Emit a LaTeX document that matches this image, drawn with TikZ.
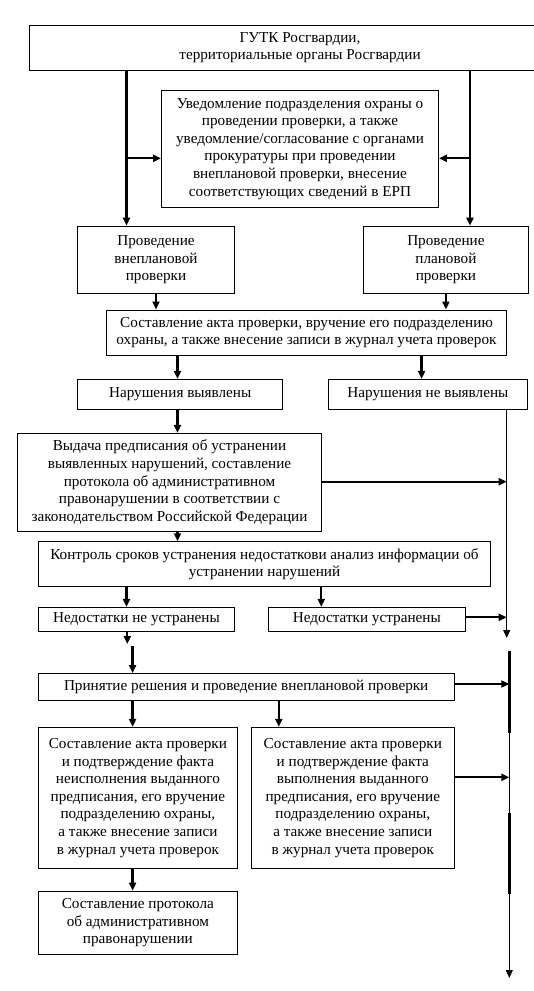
\documentclass[tikz,border=0pt]{standalone}
\usepackage{fontspec}
\setmainfont{Liberation Serif}
\usetikzlibrary{arrows.meta}
\begin{document}
\begin{tikzpicture}[x=1pt,y=-1pt,
  box/.style={draw, line width=0.9pt, align=center, inner sep=0pt,
    font=\fontsize{15.2}{17.6}\selectfont},
  tarrow/.style={line width=2.3pt, -{Triangle[length=8pt,width=7pt]}},
  tline/.style={line width=3pt},
  narrow/.style={line width=1pt, -{Triangle[length=8pt,width=7pt]}}]
\useasboundingbox (0,0) rectangle (533,991);
\fill[white] (0,0) rectangle (533,991);
% nodes
\node[box, minimum width=542pt, minimum height=45pt] (top) at (300,47.5)
  {ГУТК Росгвардии,\\ территориальные органы Росгвардии};
\node[box, minimum width=277pt, minimum height=117.3pt] (notif) at (300,148.7)
  {Уведомление подразделения охраны о\\ проведении проверки, а также\\ уведомление/согласование с органами\\ прокуратуры при проведении\\ внеплановой проверки, внесение\\ соответствующих сведений в ЕРП};
\node[box, minimum width=157pt, minimum height=67.3pt] (vnepl) at (156,259.7)
  {Проведение\\ внеплановой\\ проверки};
\node[box, minimum width=164.2pt, minimum height=67.3pt] (plan) at (445.9,259.7)
  {Проведение\\ плановой\\ проверки};
\node[box, minimum width=400.2pt, minimum height=45.7pt] (akt) at (306.5,332.8)
  {Составление акта проверки, вручение его подразделению\\ охраны, а также внесение записи в журнал учета проверок};
\node[box, minimum width=205.4pt, minimum height=30pt] (nar1) at (180.2,394.3)
  {Нарушения выявлены};
\node[box, minimum width=198.2pt, minimum height=30pt] (nar2) at (427.9,394.3)
  {Нарушения не выявлены};
\node[box, minimum width=303.6pt, minimum height=97.7pt] (vyd) at (169.5,482.2)
  {Выдача предписания об устранении\\ выявленных нарушений, составление\\ протокола об административном\\ правонарушении в соответствии с\\ законодательством Российской Федерации};
\node[box, minimum width=452.2pt, minimum height=45pt] (kontr) at (264.5,564.2)
  {Контроль сроков устранения недостаткови анализ информации об\\ устранении нарушений};
\node[box, minimum width=196.2pt, minimum height=23.7pt] (ned1) at (136.5,619.2)
  {Недостатки не устранены};
\node[box, minimum width=196.4pt, minimum height=23.7pt] (ned2) at (366.8,619.2)
  {Недостатки устранены};
\node[box, minimum width=415.5pt, minimum height=27.2pt] (prin) at (246.2,687.1)
  {Принятие решения и проведение внеплановой проверки};
\node[box, minimum width=198.9pt, minimum height=141pt] (sost1) at (137.9,797.8)
  {Составление акта проверки\\ и подтверждение факта\\ неисполнения выданного\\ предписания, его вручение\\ подразделению охраны,\\ а также внесение записи\\ в журнал учета проверок};
\node[box, minimum width=202.3pt, minimum height=141pt] (sost2) at (352.8,797.8)
  {Составление акта проверки\\ и подтверждение факта\\ выполнения выданного\\ предписания, его вручение\\ подразделению охраны,\\ а также внесение записи\\ в журнал учета проверок};
\node[box, minimum width=198.9pt, minimum height=63.3pt] (prot) at (137.9,922.7)
  {Составление протокола\\ об административном\\ правонарушении};
% helper coordinates
\coordinate (xL) at (126.5,0);
\coordinate (xR) at (470,0);
\coordinate (yN) at (0,158.3);
\coordinate (xA) at (177.5,0);
\coordinate (xB) at (421.6,0);
\coordinate (xT) at (506.7,0);
\coordinate (xK) at (321.3,0);
\coordinate (xP) at (132.6,0);
\coordinate (xQ) at (278.8,0);
\coordinate (xV) at (509.3,0);
\coordinate (tEnd) at (506.7,638);
\coordinate (c1) at (127.3,644);
\coordinate (c2) at (132.6,646);
\coordinate (vTop) at (509.3,651);
\coordinate (v1) at (509.3,733);
\coordinate (v2) at (509.3,813);
\coordinate (v3) at (509.3,894);
\coordinate (vEnd) at (509.3,978);
% connectors
\draw[tarrow] (top.south -| xL) -- (vnepl.north -| xL);
\draw[tarrow] (top.south -| xR) -- (plan.north -| xR);
\draw[tarrow] (xL |- yN) -- (notif.west |- yN);
\draw[tarrow] (xR |- yN) -- (notif.east |- yN);
\draw[tarrow] (vnepl.south) -- (vnepl.south |- akt.north);
\draw[tarrow] (plan.south) -- (plan.south |- akt.north);
\draw[tarrow] (akt.south -| xA) -- (nar1.north -| xA);
\draw[tarrow] (akt.south -| xB) -- (nar2.north -| xB);
\draw[tarrow] (nar1.south -| xA) -- (vyd.north -| xA);
\draw[narrow] (nar2.south -| xT) -- (tEnd);
\draw[tarrow] (vyd.east |- 0,481.7) -- (xT |- 0,481.7);
\draw[tarrow] (vyd.south -| xA) -- (kontr.north -| xA);
\draw[tarrow] (kontr.south -| xL) -- (ned1.north -| xL);
\draw[tarrow] (kontr.south -| xK) -- (ned2.north -| xK);
\draw[tarrow] (ned2.east |- 0,617.3) -- (xT |- 0,617.3);
\draw[tarrow] (ned1.south -| c1) -- (c1);
\draw[tarrow] (c2) -- (prin.north -| c2);
\draw[tarrow] (prin.east |- 0,684) -- (xV |- 0,684);
\draw[tarrow] (prin.south -| xP) -- (sost1.north -| xP);
\draw[tarrow] (prin.south -| xQ) -- (sost2.north -| xQ);
\draw[tarrow] (sost2.east |- 0,777.3) -- (xV |- 0,777.3);
\draw[tarrow] (sost1.south -| xP) -- (prot.north -| xP);
\draw[narrow] (vTop) -- (vEnd);
\draw[tline] (vTop) -- (v1);
\draw[tline] (v2) -- (v3);
\end{tikzpicture}
\end{document}
